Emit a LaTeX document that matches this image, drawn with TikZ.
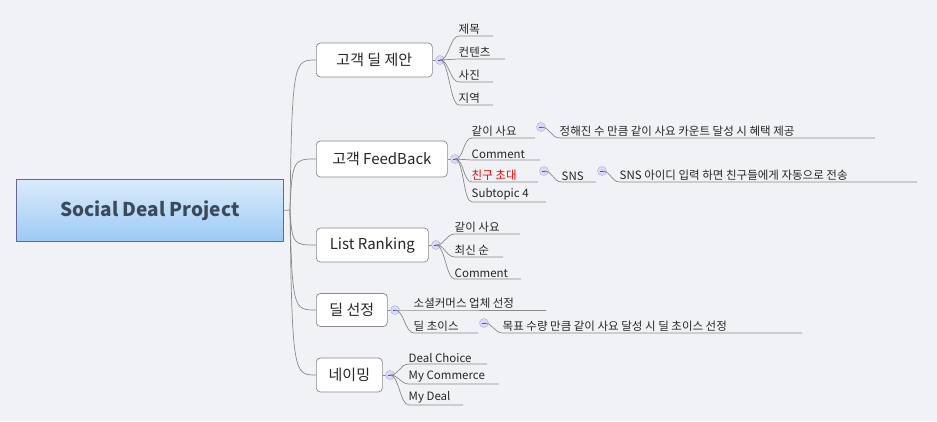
\documentclass[tikz,border=0pt]{standalone}
\usepackage{fontspec}
\setmainfont{Noto Sans CJK KR}
\usetikzlibrary{calc}
\definecolor{bg}{HTML}{F0F2F5}
\definecolor{ln}{HTML}{8A8A8A}
\definecolor{rootA}{HTML}{DCEBFB}
\definecolor{rootB}{HTML}{9CCAF5}
\definecolor{rootT}{HTML}{3A4A5A}
\tikzset{
 conn/.style={draw=ln,line width=0.7pt},
 topicbox/.style={draw=ln,fill=white,rounded corners=4pt,line width=0.7pt,inner sep=0pt,anchor=west,font=\fontsize{15}{18}\selectfont,text=black!85},
 leaf/.style={anchor=south west,inner sep=1.5pt,font=\fontsize{11.5}{13}\selectfont,text=black!85},
 mc/.style={circle,draw=blue!25!gray!50,fill=blue!15,minimum size=9pt,inner sep=0pt},
}
\newcommand{\mcirc}[3]{\node[mc] (#1) at (#2,#3) {}; \draw[blue!40!gray,line width=0.6pt] ($(#1)+(-2.5,0)$) -- ($(#1)+(2.5,0)$);}
% \leafx{name}{parent}{ux}{uy}{endx}{text}
\newcommand{\leafx}[6]{\node[leaf] (#1) at (#3+7,#4) {#6};
 \draw[conn] (#2.center) .. controls ($(#2.center)+(9,0)$) and (#3,#4) .. (#3+9,#4) -- (#5,#4);}
\begin{document}
\begin{tikzpicture}[x=1pt,y=-1pt]
\fill[bg] (0,0) rectangle (937,421);
\useasboundingbox (0,0) rectangle (937,421);
% root
\node[draw=gray!80!blue,line width=0.7pt,top color=rootA,bottom color=rootB,minimum width=267pt,minimum height=62pt,anchor=north west,inner sep=0pt,font=\fontsize{19}{22}\selectfont\bfseries,text=rootT] (root) at (16,179) {Social Deal Project};
\coordinate (j) at (290,210);
\draw[conn] (root.east) -- (j);
% topics
\node[topicbox,minimum width=116pt,minimum height=34pt] (t1) at (316,60) {고객 딜 제안};
\node[topicbox,minimum width=131pt,minimum height=36pt] (t2) at (316,159) {고객 FeedBack};
\node[topicbox,minimum width=112pt,minimum height=34pt] (t3) at (316,245) {List Ranking};
\node[topicbox,minimum width=71pt,minimum height=33pt] (t4) at (316,310) {딜 선정};
\node[topicbox,minimum width=66pt,minimum height=34pt] (t5) at (316,375) {네이밍};
\foreach \t in {t1,t2,t3,t4,t5}{
 \draw[conn] (j) .. controls ($(j|-\t.west)+(2,0)$) and ($(j|-\t.west)+(4,0)$) .. (\t.west);}
% circles
\draw[conn] (t1.east) -- (440,60); \mcirc{c1}{440}{60}
\draw[conn] (t2.east) -- (455,159); \mcirc{c2}{455}{159}
\draw[conn] (t3.east) -- (436,245); \mcirc{c3}{436}{245}
\draw[conn] (t4.east) -- (395,310); \mcirc{c4}{395}{310}
\draw[conn] (t5.east) -- (390,375); \mcirc{c5}{390}{375}
% t1 leaves
\leafx{a1}{c1}{450}{36}{493}{제목}
\leafx{a2}{c1}{450}{59}{505}{컨텐츠}
\leafx{a3}{c1}{450}{82}{493}{사진}
\leafx{a4}{c1}{450}{105}{493}{지역}
% t2 leaves
\leafx{b1}{c2}{463}{138}{535}{같이 사요}
\mcirc{cb1}{541}{127}
\leafx{b1a}{cb1}{551}{138}{875}{정해진 수 만큼 같이 사요 카운트 달성 시 혜택 제공}
\leafx{b2}{c2}{463}{160}{540}{Comment}
\node[leaf,text=red] (b3) at (470,182) {친구 초대};
\draw[conn] (c2.center) .. controls ($(c2.center)+(9,0)$) and (463,182) .. (472,182) -- (538,182);
\mcirc{cb3}{544}{171}
\leafx{b3a}{cb3}{553}{182}{596}{SNS}
\mcirc{cb3a}{602}{171}
\leafx{b3b}{cb3a}{611}{182}{917}{SNS 아이디 입력 하면 친구들에게 자동으로 전송}
\leafx{b4}{c2}{463}{202}{546}{Subtopic 4}
% t3 leaves
\leafx{d1}{c3}{446}{234}{520}{같이 사요}
\leafx{d2}{c3}{446}{257}{503}{최신 순}
\leafx{d3}{c3}{446}{279}{521}{Comment}
% t4 leaves
\leafx{e1}{c4}{405}{310}{546}{소셜커머스 업체 선정}
\leafx{e2}{c4}{405}{333}{478}{딜 초이스}
\mcirc{ce2}{484}{323}
\leafx{e2a}{ce2}{494}{333}{802}{목표 수량 만큼 같이 사요 달성 시 딜 초이스 선정}
% t5 leaves
\leafx{f1}{c5}{400}{364}{487}{Deal Choice}
\leafx{f2}{c5}{400}{384}{499}{My Commerce}
\leafx{f3}{c5}{400}{405}{463}{My Deal}
\end{tikzpicture}
\end{document}
